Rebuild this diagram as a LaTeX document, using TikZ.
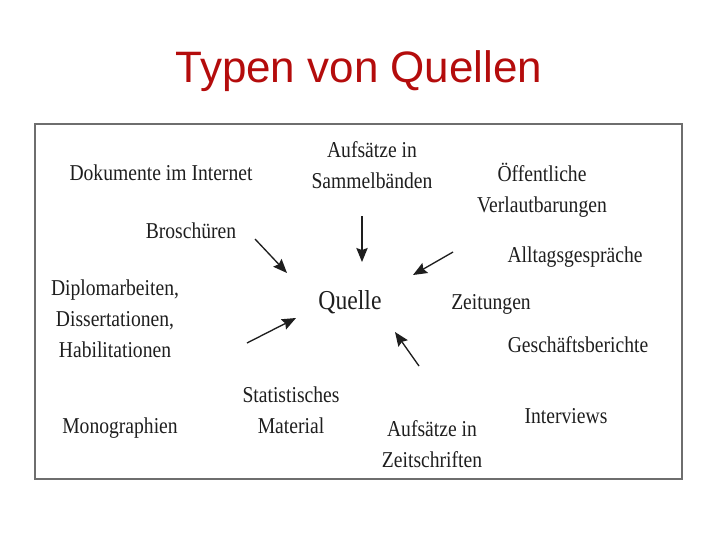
\documentclass[tikz,border=0pt]{standalone}
\usepackage{fontspec}
\setmainfont{Liberation Serif}
\newfontfamily\titlefont{Liberation Sans}
\newfontfamily\scanfont[FakeStretch=0.865]{Liberation Serif}
\usetikzlibrary{arrows.meta}
\definecolor{titlered}{RGB}{180,12,12}
\definecolor{scanink}{RGB}{30,30,30}
\definecolor{scanframe}{RGB}{110,110,110}

\begin{document}
\begin{tikzpicture}[x=0.75pt,y=-0.75pt,
	quelltyp/.style={font=\scanfont\fontsize{17}{23.25}\selectfont, text=scanink, align=center, inner sep=0pt, anchor=base},
	pfeil/.style={-{Stealth[length=10.5pt,width=8.5pt,inset=1.5pt]}, line width=1pt, draw=scanink}]
	% Page
	\useasboundingbox (0,0) rectangle (720,540);

	% Title
	\node[font=\titlefont\fontsize{33}{40}\selectfont, text=titlered, anchor=base] (titel) at (359,82) {Typen von Quellen};

	% Frame of the scan
	\draw[scanframe, line width=1pt] (35,124) rectangle (682,479);

	% Centre
	\node[quelltyp, font=\scanfont\fontsize{20.5}{24}\selectfont] (quelle) at (350,309) {Quelle};

	% Types of sources (multi-line nodes sit on their last baseline)
	%Top row
	\node[quelltyp] (internet) at (161,180) {Dokumente im Internet};
	\node[quelltyp] (sammel) at (372,188) {Aufsätze in\\Sammelbänden};
	\node[quelltyp] (oeffentlich) at (542,212) {Öffentliche\\Verlautbarungen};
	%Middle
	\node[quelltyp] (broschueren) at (191,238) {Broschüren};
	\node[quelltyp] (alltag) at (575,262) {Alltagsgespräche};
	\node[quelltyp] (diplom) at (115,357) {Diplomarbeiten,\\Dissertationen,\\Habilitationen};
	\node[quelltyp] (zeitungen) at (491,309) {Zeitungen};
	\node[quelltyp] (geschaeft) at (578,352) {Geschäftsberichte};
	%Bottom row
	\node[quelltyp] (statistik) at (291,433) {Statistisches\\Material};
	\node[quelltyp] (monographien) at (120,433) {Monographien};
	\node[quelltyp] (interviews) at (566,423) {Interviews};
	\node[quelltyp] (zeitschriften) at (432,467) {Aufsätze in\\Zeitschriften};

	% Arrows towards the centre
	\coordinate (pfeilA1) at (255,239); \coordinate (pfeilA2) at (287,273);
	\coordinate (pfeilB1) at (362,216); \coordinate (pfeilB2) at (362,262);
	\coordinate (pfeilC1) at (453,252); \coordinate (pfeilC2) at (413,275);
	\coordinate (pfeilD1) at (247,343); \coordinate (pfeilD2) at (296,318);
	\coordinate (pfeilE1) at (419,366); \coordinate (pfeilE2) at (395,332);
	\draw[pfeil] (pfeilA1) -- (pfeilA2);
	\draw[pfeil] (pfeilB1) -- (pfeilB2);
	\draw[pfeil] (pfeilC1) -- (pfeilC2);
	\draw[pfeil] (pfeilD1) -- (pfeilD2);
	\draw[pfeil] (pfeilE1) -- (pfeilE2);

\end{tikzpicture}
\end{document}
